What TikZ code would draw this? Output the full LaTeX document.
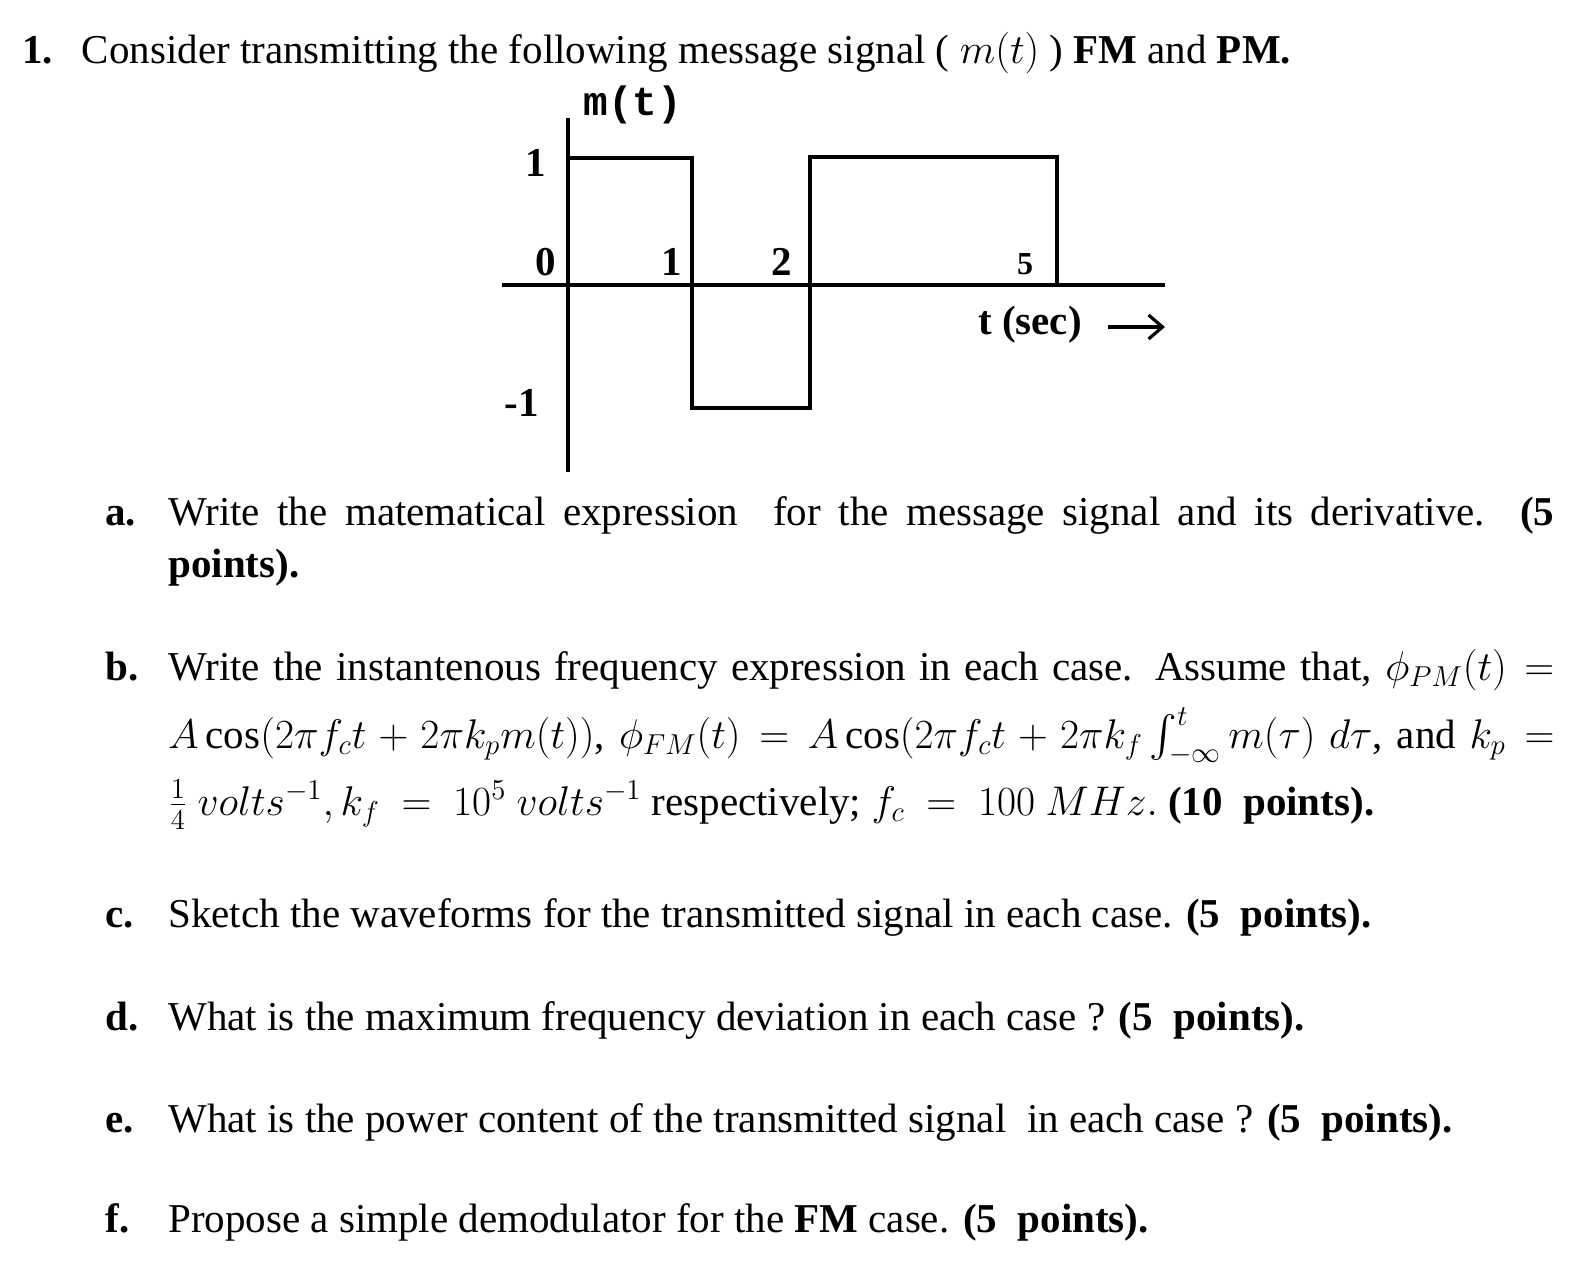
\documentclass[tikz,border=0pt]{standalone}
\usepackage{amsmath}
\usepackage{fontspec}
\setmainfont{Liberation Serif}
\setmonofont{Liberation Mono}
\usetikzlibrary{arrows.meta}
\begin{document}
\begin{tikzpicture}[x=0.5pt,y=-0.5pt,
  txt/.style={anchor=base west,inner sep=0pt,font=\fontsize{20.5}{24}\selectfont},
  lbl/.style={inner sep=0pt,font=\fontsize{20.5}{24}\selectfont\bfseries},
  sig/.style={line width=2pt}]
\useasboundingbox (0,0) rectangle (1586,1276);
% graph
\coordinate (vt) at (568,118); \coordinate (vb) at (568,472);
\coordinate (hl) at (502,285); \coordinate (hr) at (1165,285);
\draw[line width=2.2pt] (vt) -- (vb);
\draw[line width=1.6pt] (hl) -- (hr);
\draw[sig] (568,158) -- (692,158) -- (692,408) -- (810,408) -- (810,157) -- (1057,157) -- (1057,285);
\node[lbl] (mt) at (633,105) {\ttfamily\bfseries m(t)};
\node[lbl] (y1) at (536,163) {1};
\node[lbl] (x0) at (546,262) {0};
\node[lbl] (x1) at (672,262) {1};
\node[lbl] (x2) at (782,262) {2};
\node[lbl,font=\fontsize{16}{18}\selectfont\bfseries] (x5) at (1025,264) {5};
\node[lbl] (ym) at (522,403) {-1};
\node[lbl] (tl) at (1030,325) {t (sec)};
\draw[-{Straight Barb[length=7pt,width=12pt]},line width=1.6pt] (1108,327) -- (1165,327);
% text
\node[txt] (l1) at (22,63) {\textbf{1.}\hspace{0.7em}Consider transmitting the following message signal ( $m(t)$ ) \textbf{FM} and \textbf{PM.}};
\node[txt] (la) at (105,525) {\textbf{a.}};
\node[txt] (a1) at (168,525) {\makebox[693pt][s]{Write the matematical expression\ \ for the message signal and its derivative. \textbf{(5}}};
\node[txt] (a2) at (168,577) {\textbf{points).}};
\node[txt] (lb) at (105,680) {\textbf{b.}};
\node[txt] (b1) at (168,680) {\makebox[693pt][s]{Write the instantenous frequency expression in each case. Assume that, $\phi_{PM}(t) =$}};
\node[txt] (b2) at (168,748) {\makebox[693pt][s]{$A\cos(2\pi f_c t + 2\pi k_p m(t))$, $\phi_{FM}(t) = A\cos(2\pi f_c t + 2\pi k_f \int_{-\infty}^{t} m(\tau)\ d\tau$, and $k_p =$}};
\node[txt] (b3) at (168,815) {$\frac{1}{4}\ volts^{-1}, k_f\ =\ 10^5\ volts^{-1}$ respectively; $f_c\ =\ 100\ MHz.$ \textbf{(10\ \ points).}};
\node[txt] (lc) at (105,927) {\textbf{c.}};
\node[txt] (c1) at (168,927) {Sketch the waveforms for the transmitted signal in each case. \textbf{(5\ \ points).}};
\node[txt] (ld) at (105,1030) {\textbf{d.}};
\node[txt] (d1) at (168,1030) {What is the maximum frequency deviation in each case ? \textbf{(5\ \ points).}};
\node[txt] (le) at (105,1132) {\textbf{e.}};
\node[txt] (e1) at (168,1132) {What is the power content of the transmitted signal\ \ in each case ? \textbf{(5\ \ points).}};
\node[txt] (lf) at (105,1232) {\textbf{f.}};
\node[txt] (f1) at (168,1232) {Propose a simple demodulator for the \textbf{FM} case. \textbf{(5\ \ points).}};
\end{tikzpicture}
\end{document}
